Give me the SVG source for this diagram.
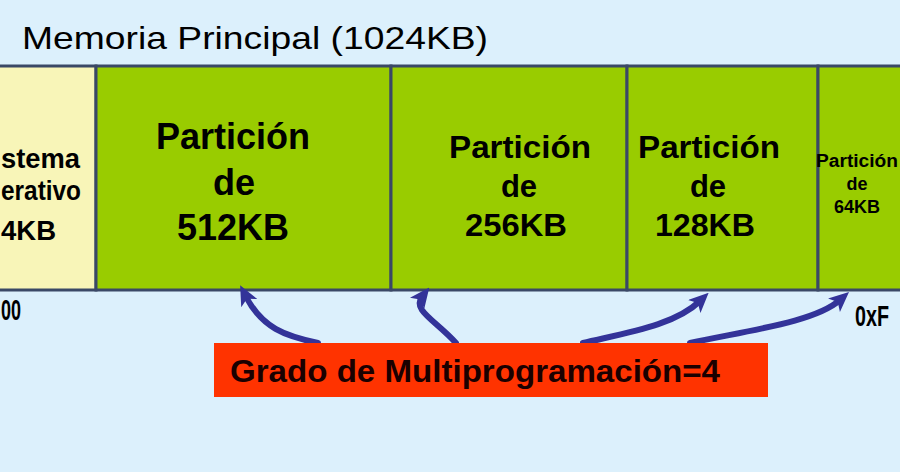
<svg xmlns="http://www.w3.org/2000/svg" width="900" height="472" viewBox="0 0 900 472">
<style>
  .bg{fill:#dcf0fc}
  .part{fill:#99cc00;stroke:#3a4866;stroke-width:3}
  .os{fill:#f8f5b8;stroke:#3a4866;stroke-width:3}
  .t{font-family:"Liberation Sans",Arial,sans-serif;font-weight:bold;fill:#000;text-anchor:middle}
  .title{font-family:"Liberation Sans",Arial,sans-serif;font-size:32px;fill:#000}
  .addr{font-family:"Liberation Sans",Arial,sans-serif;font-weight:bold;font-size:30px;fill:#000}
  .arr{fill:none;stroke:#333399;stroke-width:6;stroke-linecap:round}
</style>
<defs>
  <marker id="ah" markerUnits="userSpaceOnUse" viewBox="0 0 20 18" markerWidth="20" markerHeight="18" refX="8" refY="9" orient="auto">
    <path d="M0,0 L20,9 L0,18 L5,9 z" fill="#333399"/>
  </marker>
</defs>
<rect class="bg" x="0" y="0" width="900" height="472"/>
<text class="title" x="22" y="49" textLength="466" lengthAdjust="spacingAndGlyphs">Memoria Principal (1024KB)</text>

<g id="so">
  <rect class="os" x="-10" y="66" width="106" height="224"/>
  <text class="t" style="font-size:27px;text-anchor:start" x="1" y="168" textLength="79" lengthAdjust="spacingAndGlyphs">stema</text>
  <text class="t" style="font-size:27px;text-anchor:start" x="1" y="200" textLength="80" lengthAdjust="spacingAndGlyphs">erativo</text>
  <text class="t" style="font-size:27px;text-anchor:start" x="1" y="240" textLength="55" lengthAdjust="spacingAndGlyphs">4KB</text>
</g>
<g id="p512">
  <rect class="part" x="96" y="66" width="295" height="224"/>
  <text class="t" style="font-size:36px" x="233" y="149">Partición</text>
  <text class="t" style="font-size:36px" x="234" y="195">de</text>
  <text class="t" style="font-size:36px" x="233" y="240">512KB</text>
</g>
<g id="p256">
  <rect class="part" x="391" y="66" width="236" height="224"/>
  <text class="t" style="font-size:31px" x="520" y="158" textLength="142" lengthAdjust="spacingAndGlyphs">Partición</text>
  <text class="t" style="font-size:31px" x="519" y="197">de</text>
  <text class="t" style="font-size:31px" x="516" y="236" textLength="102" lengthAdjust="spacingAndGlyphs">256KB</text>
</g>
<g id="p128">
  <rect class="part" x="627" y="66" width="191" height="224"/>
  <text class="t" style="font-size:31px" x="709" y="158" textLength="142" lengthAdjust="spacingAndGlyphs">Partición</text>
  <text class="t" style="font-size:31px" x="708" y="197">de</text>
  <text class="t" style="font-size:31px" x="705" y="236" textLength="100" lengthAdjust="spacingAndGlyphs">128KB</text>
</g>
<g id="p64">
  <rect class="part" x="818" y="66" width="100" height="224"/>
  <text class="t" style="font-size:18px" x="857" y="167" textLength="82" lengthAdjust="spacingAndGlyphs">Partición</text>
  <text class="t" style="font-size:18px" x="857" y="190">de</text>
  <text class="t" style="font-size:18px" x="857" y="213">64KB</text>
</g>

<text class="addr" x="1" y="320" textLength="20" lengthAdjust="spacingAndGlyphs">00</text>
<text class="addr" x="855" y="326" textLength="34" lengthAdjust="spacingAndGlyphs">0xF</text>

<g id="connectors">
  <path class="arr" marker-end="url(#ah)" d="M318 343 C285 336 262 328 245.6 296"/>
  <path class="arr" marker-end="url(#ah)" d="M456 343 C435 320 412 310 422 297"/>
  <path class="arr" marker-end="url(#ah)" d="M583 343 C630 332 675 325 700 301"/>
  <path class="arr" marker-end="url(#ah)" d="M690 343 C750 330 815 322 840 300"/>
</g>

<g id="grado">
  <rect x="214" y="343" width="554" height="54" fill="#ff3300"/>
  <text class="t" style="font-size:32px;text-anchor:start;fill:#1a0000" x="230" y="382" textLength="490" lengthAdjust="spacingAndGlyphs">Grado de Multiprogramación=4</text>
</g>
</svg>
